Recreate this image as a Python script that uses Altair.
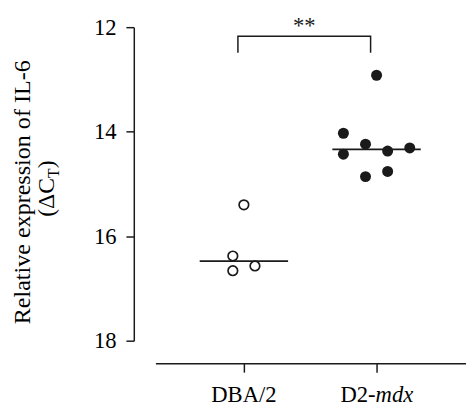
import altair as alt
import pandas as pd

# groups on the x axis
groups = ["DBA/2", "D2-mdx"]

# delta CT values
dba_values = [15.40, 16.38, 16.66, 16.57]
mdx_values = [12.92, 14.03, 14.43, 14.24, 14.86, 14.37, 14.76, 14.31]

# horizontal lane of each dot in the scatter (dot plot columns)
dba_lanes = [0, -1, -1, 1]
mdx_lanes = [0, -3, -3, -1, -1, 1, 1, 3]

y_ticks = [12, 14, 16, 18]

# significance bracket
bracket_x = [0.955, 0.955, 1.955, 1.955]
bracket_y = [12.49, 12.175, 12.175, 12.49]
sig_label = "**"

FONT = "Liberation Serif"
INK = "#1a1a1a"

df = pd.DataFrame({
    "group": [groups[0]] * len(dba_values) + [groups[1]] * len(mdx_values),
    "value": dba_values + mdx_values,
    "lane": dba_lanes + mdx_lanes,
})
df["pos"] = df["group"].map({g: i + 1 for i, g in enumerate(groups)})

xscale = alt.Scale(domain=[0.3333, 2.674], nice=False, zero=False)
yscale = alt.Scale(domain=[12, 18], reverse=True, nice=False, zero=False)

xaxis = alt.Axis(values=[1, 2], labels=False, title="", grid=False,
                 offset=23, tickSize=9, tickWidth=1.5, domainWidth=1.5,
                 domainColor=INK, tickColor=INK)
yaxis = alt.Axis(values=y_ticks, title="", grid=False, offset=22,
                 tickSize=8, tickWidth=1.5, domainWidth=1.5,
                 domainColor=INK, tickColor=INK, labelPadding=10,
                 labelFont=FONT, labelFontSize=23, labelColor="black")


def X(field):
    return alt.X(field, scale=xscale, axis=xaxis)


def Y(field):
    return alt.Y(field, scale=yscale, axis=yaxis)


base = alt.Chart(df).transform_calculate(xj="datum.pos + datum.lane / 12")

open_pts = base.transform_filter(alt.datum.group == groups[0]).mark_point(
    shape="circle", filled=False, size=95, strokeWidth=1.7, color=INK, opacity=1
).encode(x=X("xj:Q"), y=Y("value:Q"))

filled_pts = base.transform_filter(alt.datum.group == groups[1]).mark_circle(
    size=125, color=INK, opacity=1
).encode(x=X("xj:Q"), y=Y("value:Q"))

medians = alt.Chart(df).transform_aggregate(
    med="median(value)", groupby=["group", "pos"]
).transform_calculate(
    x1="datum.pos - 0.333", x2="datum.pos + 0.333"
).mark_rule(color=INK, strokeWidth=1.8).encode(
    x=X("x1:Q"), x2="x2:Q", y=Y("med:Q"),
)

bracket_df = pd.DataFrame({"bx": bracket_x, "by": bracket_y, "o": range(len(bracket_x))})
bracket = alt.Chart(bracket_df).mark_line(color=INK, strokeWidth=1.5).encode(
    x=X("bx:Q"), y=Y("by:Q"), order="o:Q",
)

sig = alt.Chart(pd.DataFrame({"t": [sig_label], "sx": [sum(bracket_x) / 4], "sy": [12.11]})).mark_text(
    font=FONT, fontSize=23, color=INK, baseline="alphabetic"
).encode(x=X("sx:Q"), y=Y("sy:Q"), text="t:N")

# x tick labels, "mdx" is italic
LAB_Y = 381
lab_df = pd.DataFrame({"pos": [1], "t": [groups[0]]})
xlab1 = alt.Chart(lab_df).mark_text(
    font=FONT, fontSize=23, color="black", baseline="alphabetic"
).encode(x=X("pos:Q"), y=alt.value(LAB_Y), text="t:N")

prefix, suffix = groups[1].split("-")
xlab2a = alt.Chart(pd.DataFrame({"pos": [2], "t": [prefix + "-"]})).mark_text(
    font=FONT, fontSize=23, color="black", baseline="alphabetic", align="right", dx=-1
).encode(x=X("pos:Q"), y=alt.value(LAB_Y), text="t:N")
xlab2b = alt.Chart(pd.DataFrame({"pos": [2], "t": [suffix]})).mark_text(
    font=FONT, fontSize=23, fontStyle="italic", color="black", baseline="alphabetic",
    align="left", dx=-1
).encode(x=X("pos:Q"), y=alt.value(LAB_Y), text="t:N")

# y title, two lines with a subscript T
title1 = alt.Chart(pd.DataFrame({"t": ["Relative expression of IL-6"]})).mark_text(
    font=FONT, fontSize=24.5, color="black", angle=270, baseline="alphabetic", align="center"
).encode(x=alt.value(-128), y=alt.value(168), text="t:N")
title2a = alt.Chart(pd.DataFrame({"t": ["(\u0394C"]})).mark_text(
    font=FONT, fontSize=24, color="black", angle=270, baseline="alphabetic", align="right"
).encode(x=alt.value(-103), y=alt.value(153.5), text="t:N")
title2b = alt.Chart(pd.DataFrame({"t": ["T"]})).mark_text(
    font=FONT, fontSize=16, color="black", angle=270, baseline="alphabetic", align="left", dy=5
).encode(x=alt.value(-103), y=alt.value(153.5), text="t:N")
title2c = alt.Chart(pd.DataFrame({"t": [")"]})).mark_text(
    font=FONT, fontSize=24, color="black", angle=270, baseline="alphabetic", align="left", dx=10
).encode(x=alt.value(-103), y=alt.value(153.5), text="t:N")

chart = alt.layer(
    open_pts, filled_pts, medians, bracket, sig,
    xlab1, xlab2a, xlab2b, title1, title2a, title2b, title2c,
).properties(
    width=316, height=319,
    padding={"left": 150, "top": 16, "right": 0, "bottom": 67},
    autosize=alt.AutoSizeParams(type="none"),
).configure_view(stroke=None)

chart.save("out.html", embed_options={"renderer": "svg", "actions": False})
